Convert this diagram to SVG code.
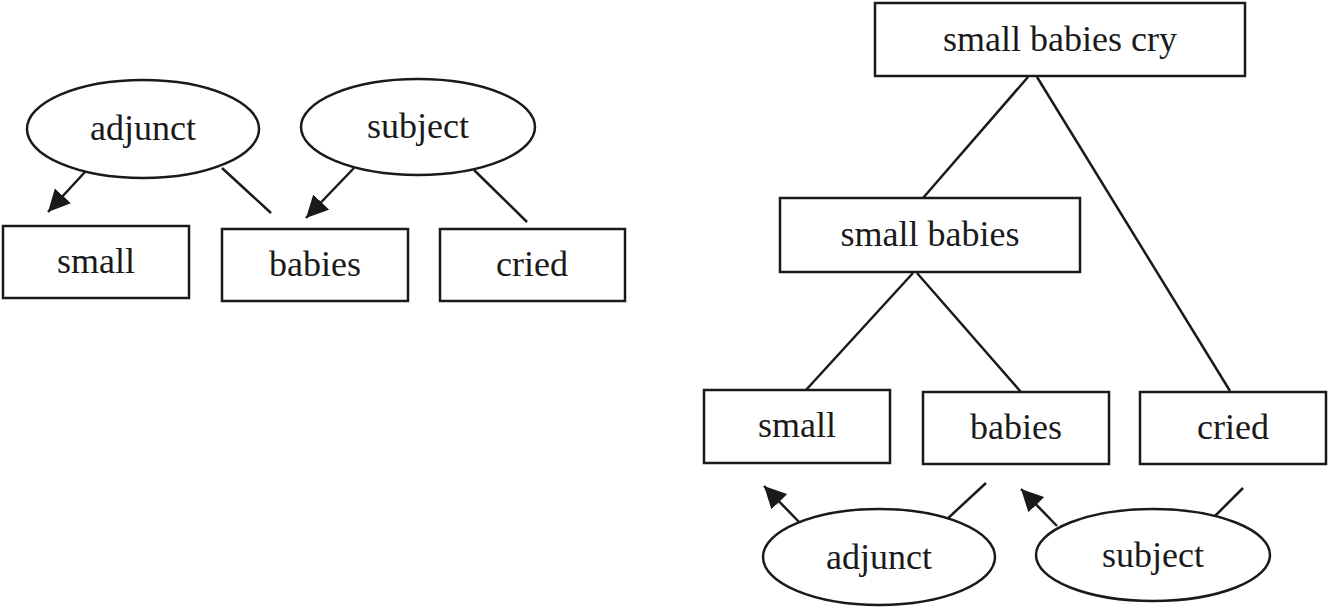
<svg xmlns="http://www.w3.org/2000/svg" width="1329" height="609" viewBox="0 0 1329 609">
<defs>
<style>
.n{fill:#fff;stroke:#1a1a1a;stroke-width:2.5}
.t{font-family:"Liberation Serif",serif;font-size:36px;fill:#1a1a1a;text-anchor:middle;dominant-baseline:central}
.c{stroke:#1a1a1a;stroke-width:2.5;fill:none}
</style>
<marker id="ah" viewBox="0 0 10 10" refX="9" refY="5" markerWidth="8" markerHeight="8" orient="auto" markerUnits="userSpaceOnUse">
<path d="M0,0 L10,5 L0,10 z" fill="#1a1a1a"/>
</marker>
<marker id="a" viewBox="0 0 20 20" refX="20" refY="10" markerWidth="22" markerHeight="22" orient="auto" markerUnits="userSpaceOnUse">
<path d="M0,0 L20,10 L0,20 z" fill="#1a1a1a"/>
</marker>
</defs>
<rect width="1329" height="609" fill="#fff"/>
<g id="connectors">
<line class="c" x1="85" y1="172" x2="48" y2="212" marker-end="url(#a)"/>
<line class="c" x1="222" y1="168" x2="271" y2="213"/>
<line class="c" x1="354" y1="168" x2="306" y2="218" marker-end="url(#a)"/>
<line class="c" x1="474" y1="170" x2="527" y2="222"/>
<line class="c" x1="1028" y1="77" x2="923" y2="198"/>
<line class="c" x1="1037" y1="77" x2="1230" y2="391"/>
<line class="c" x1="913" y1="273" x2="806" y2="390"/>
<line class="c" x1="917" y1="273" x2="1021" y2="392"/>
<line class="c" x1="803" y1="526" x2="764" y2="486" marker-end="url(#a)"/>
<line class="c" x1="945" y1="521" x2="986" y2="483"/>
<line class="c" x1="1057" y1="526" x2="1021" y2="489" marker-end="url(#a)"/>
<line class="c" x1="1213" y1="518" x2="1243" y2="488"/>
</g>
<g id="l-adjunct"><ellipse class="n" cx="143" cy="129" rx="116" ry="49"/><text class="t" x="143" y="128">adjunct</text></g>
<g id="l-subject"><ellipse class="n" cx="418" cy="127" rx="117" ry="48"/><text class="t" x="418" y="126">subject</text></g>
<g id="l-small"><rect class="n" x="3" y="226" width="186" height="72"/><text class="t" x="96" y="261">small</text></g>
<g id="l-babies"><rect class="n" x="222" y="229" width="186" height="72"/><text class="t" x="315" y="264">babies</text></g>
<g id="l-cried"><rect class="n" x="440" y="229" width="185" height="72"/><text class="t" x="532" y="264">cried</text></g>
<g id="r-top"><rect class="n" x="875" y="3" width="370" height="73"/><text class="t" x="1060" y="39">small babies cry</text></g>
<g id="r-smallbabies"><rect class="n" x="780" y="198" width="300" height="74"/><text class="t" x="930" y="234">small babies</text></g>
<g id="r-small"><rect class="n" x="704" y="390" width="186" height="73"/><text class="t" x="797" y="425">small</text></g>
<g id="r-babies"><rect class="n" x="923" y="392" width="186" height="72"/><text class="t" x="1016" y="427">babies</text></g>
<g id="r-cried"><rect class="n" x="1140" y="392" width="186" height="72"/><text class="t" x="1233" y="427">cried</text></g>
<g id="r-adjunct"><ellipse class="n" cx="879" cy="557" rx="116" ry="48"/><text class="t" x="879" y="557">adjunct</text></g>
<g id="r-subject"><ellipse class="n" cx="1153" cy="555" rx="117" ry="46"/><text class="t" x="1153" y="555">subject</text></g>
</svg>
